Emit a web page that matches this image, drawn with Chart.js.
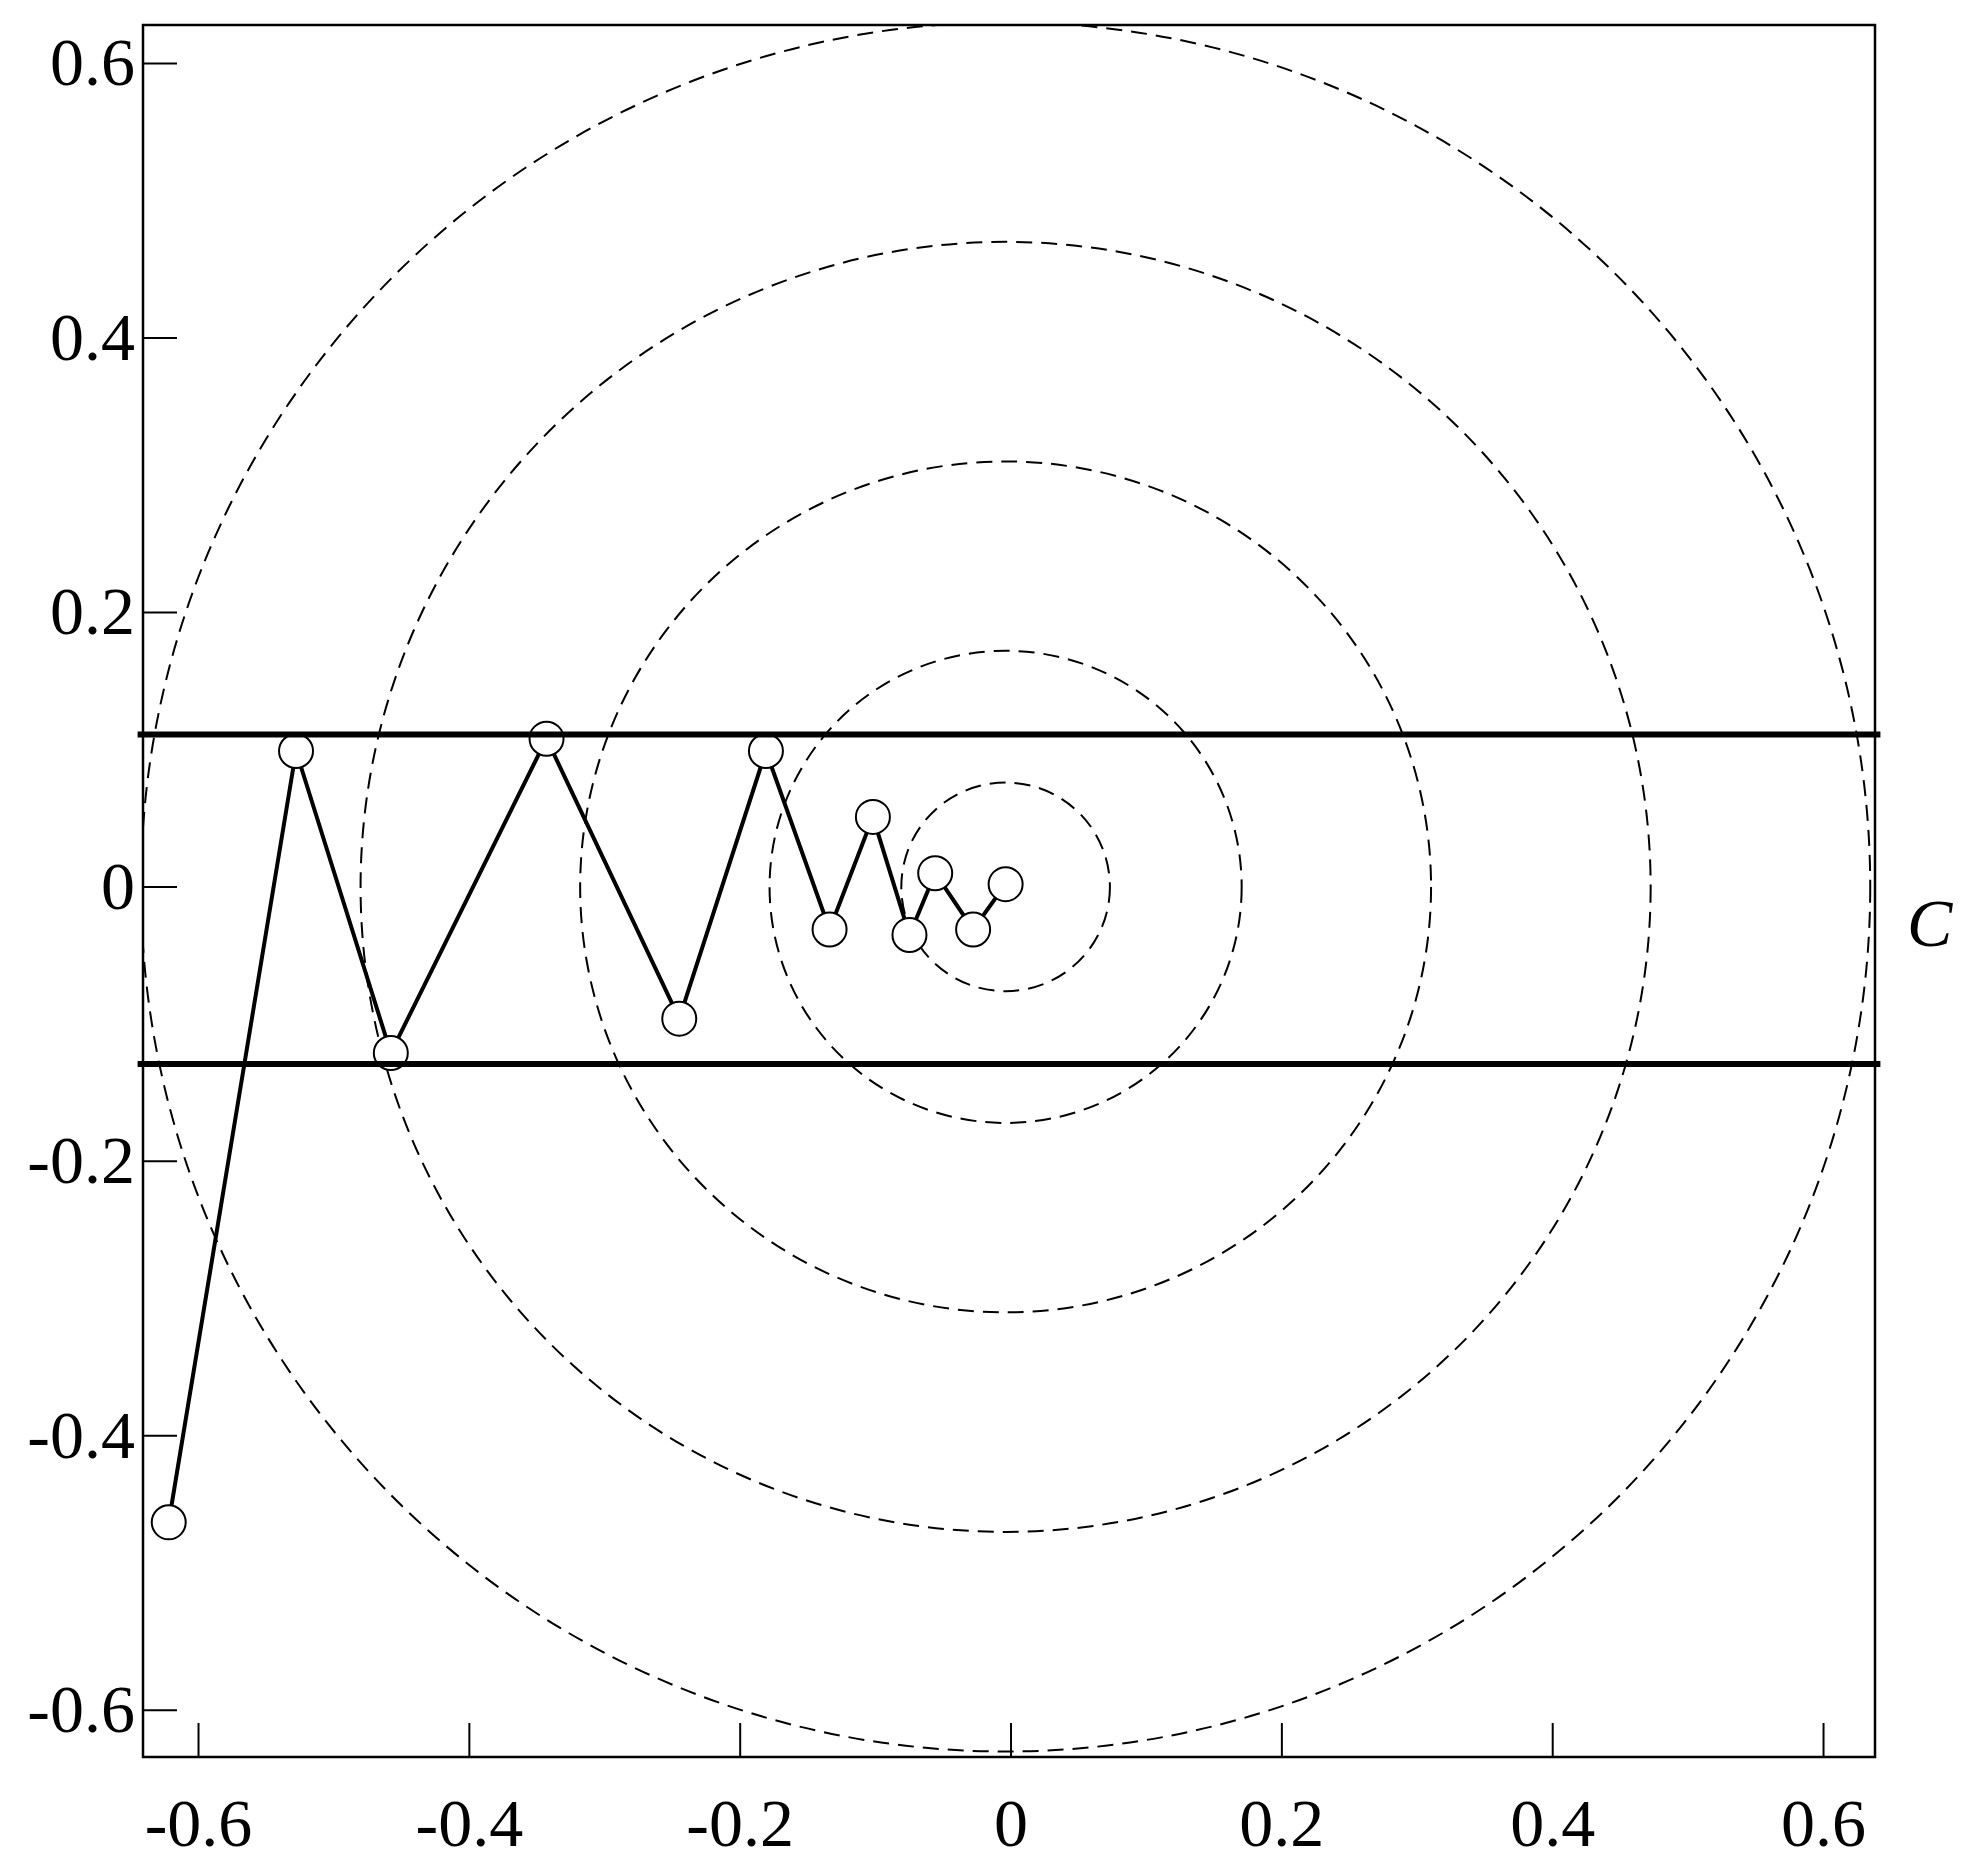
<!DOCTYPE html>
<html>
<head>
<meta charset="utf-8">
<script src="https://cdn.jsdelivr.net/npm/chart.js@4.4.0/dist/chart.umd.min.js"></script>
<style>
  html, body { margin: 0; padding: 0; background: #fff; }
  #wrap { width: 1982px; height: 1858px; }
</style>
</head>
<body>
<div id="wrap"><canvas id="chart"></canvas></div>
<script>
// trajectory points
const pathX = [-0.622, -0.528, -0.458, -0.343, -0.245, -0.181, -0.134, -0.102, -0.075, -0.056, -0.028, -0.004];
const pathY = [-0.463, 0.099, -0.121, 0.108, -0.096, 0.099, -0.031, 0.051, -0.035, 0.010, -0.031, 0.002];

// horizontal bounds
const upperBound = 0.111;
const lowerBound = -0.129;

// dashed level circles around the centre (radius in y units)
const circleRadii = [0.076, 0.172, 0.310, 0.470, 0.630];
const circleCenterX = -0.004;

const tickValues = [-0.6, -0.4, -0.2, 0, 0.2, 0.4, 0.6];
const axisLabel = 'C';

const X_MIN = -0.641, X_MAX = 0.638;
const Y_MIN = -0.634, Y_MAX = 0.628;
const FONT = '"Liberation Serif", "Times New Roman", Times, serif';

const fmt = v => (Math.abs(v) < 1e-9 ? '0' : String(+v.toFixed(1)));

const decorPlugin = {
  id: 'decor',
  beforeDatasetsDraw(chart) {
    const { ctx, chartArea: a, scales: { x, y } } = chart;
    const cx = x.getPixelForValue(circleCenterX);
    const cy = y.getPixelForValue(0);
    ctx.save();
    ctx.beginPath();
    ctx.rect(a.left, a.top, a.right - a.left, a.bottom - a.top);
    ctx.clip();
    ctx.strokeStyle = '#000';
    ctx.lineWidth = 2;
    ctx.setLineDash([16, 9]);
    circleRadii.forEach(r => {
      const pr = Math.abs(y.getPixelForValue(r) - cy);
      ctx.beginPath();
      ctx.arc(cx, cy, pr, 0, Math.PI * 2);
      ctx.stroke();
    });
    ctx.restore();
  },
  afterDraw(chart) {
    const { ctx, chartArea: a, scales: { x, y } } = chart;
    ctx.save();
    ctx.strokeStyle = '#000';
    ctx.lineWidth = 2.5;
    ctx.strokeRect(a.left, a.top, a.right - a.left, a.bottom - a.top);
    ctx.lineWidth = 2;
    ctx.fillStyle = '#000';
    ctx.font = '68px ' + FONT;
    ctx.textAlign = 'right';
    ctx.textBaseline = 'middle';
    tickValues.forEach(v => {
      const py = y.getPixelForValue(v);
      ctx.beginPath();
      ctx.moveTo(a.left, py);
      ctx.lineTo(a.left + 34, py);
      ctx.stroke();
      ctx.fillText(fmt(v), a.left - 8, py + 4);
      const px = x.getPixelForValue(v);
      ctx.beginPath();
      ctx.moveTo(px, a.bottom);
      ctx.lineTo(px, a.bottom - 34);
      ctx.stroke();
    });
    ctx.font = 'italic 68px ' + FONT;
    ctx.textAlign = 'left';
    ctx.fillText(axisLabel, a.right + 32, y.getPixelForValue(-0.03));
    ctx.restore();
  }
};

const pathData = pathX.map((v, i) => ({ x: v, y: pathY[i] }));

new Chart(document.getElementById('chart'), {
  type: 'scatter',
  data: {
    datasets: [
      {
        data: [{ x: X_MIN - 0.004, y: upperBound }, { x: X_MAX + 0.004, y: upperBound }],
        showLine: true, borderColor: '#000', borderWidth: 6, pointRadius: 0, clip: false
      },
      {
        data: [{ x: X_MIN - 0.004, y: lowerBound }, { x: X_MAX + 0.004, y: lowerBound }],
        showLine: true, borderColor: '#000', borderWidth: 6, pointRadius: 0, clip: false
      },
      {
        data: pathData,
        showLine: true, borderColor: '#000', borderWidth: 4,
        pointRadius: 17, pointBackgroundColor: '#fff', pointBorderColor: '#000', pointBorderWidth: 2,
        clip: false
      }
    ]
  },
  options: {
    responsive: true,
    maintainAspectRatio: false,
    animation: false,
    layout: { padding: { top: 25, right: 107, left: 0, bottom: 0 } },
    plugins: { legend: { display: false }, tooltip: { enabled: false } },
    scales: {
      x: {
        type: 'linear', min: X_MIN, max: X_MAX,
        grid: { display: false }, border: { display: false },
        afterBuildTicks: s => { s.ticks = tickValues.map(v => ({ value: v })); },
        afterFit: s => { s.height = 101; },
        ticks: { callback: fmt, color: '#000', padding: 22, maxRotation: 0, font: { family: FONT, size: 68 } }
      },
      y: {
        type: 'linear', min: Y_MIN, max: Y_MAX,
        grid: { display: false }, border: { display: false },
        afterFit: s => { s.width = 143; },
        ticks: { display: false }
      }
    }
  },
  plugins: [decorPlugin]
});
</script>
</body>
</html>
